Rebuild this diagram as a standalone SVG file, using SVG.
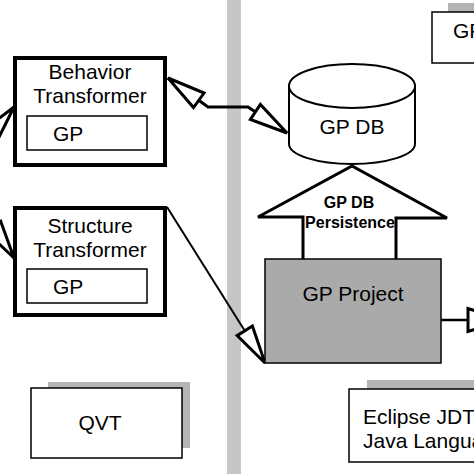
<svg xmlns="http://www.w3.org/2000/svg" width="474" height="474" viewBox="0 0 474 474">
<style>
text{font-family:"Liberation Sans",Arial,sans-serif;fill:#000}
.lbl{font-size:21px}
.bold{font-size:16px;font-weight:bold}
.thick{fill:#fff;stroke:#000;stroke-width:4}
.thin{fill:#fff;stroke:#000;stroke-width:1.5}
.shadow{fill:#b4b4b4}
.conn{fill:none;stroke:#000;stroke-width:3;stroke-linejoin:miter}
</style>
<defs>
<marker id="hollow" viewBox="-42 -12 46 24" refX="0" refY="0" markerWidth="46" markerHeight="24" markerUnits="userSpaceOnUse" orient="auto-start-reverse" style="overflow:visible">
<path d="M0,0 L-38,-9 L-38,9 Z" fill="#fff" stroke="#000" stroke-width="3"/>
</marker>
<marker id="hollowWide" viewBox="-42 -14 46 28" refX="0" refY="0" markerWidth="46" markerHeight="28" markerUnits="userSpaceOnUse" orient="auto" style="overflow:visible">
<path d="M0,0 L-38,-11.5 L-38,11.5 Z" fill="#fff" stroke="#000" stroke-width="3"/>
</marker>
</defs>
<rect width="474" height="474" fill="#fff"/>
<rect id="divider" x="227" y="0" width="14" height="474" fill="#c6c6c6"/>

<g id="connectors">
<path class="conn" d="M168,78 L208,107 L248,107 L287,133" marker-start="url(#hollow)" marker-end="url(#hollow)"/>
<path class="conn" d="M-30,160 L14,107" marker-end="url(#hollow)"/>
<path class="conn" d="M-30,191 L14,258" marker-end="url(#hollow)"/>
<path fill="none" stroke="#000" stroke-width="2" d="M167,207 L265,363" marker-end="url(#hollow)"/>
<path fill="none" stroke="#000" stroke-width="2.5" d="M441,320 L506,320" marker-end="url(#hollowWide)"/>
</g>

<g id="behavior-transformer">
<rect class="thick" x="15" y="58" width="150" height="107"/>
<text class="lbl" x="90" y="79" text-anchor="middle">Behavior</text>
<text class="lbl" x="90" y="103" text-anchor="middle">Transformer</text>
<rect class="thin" x="27" y="116" width="120" height="34"/>
<text class="lbl" x="53" y="141">GP</text>
</g>

<g id="structure-transformer">
<rect class="thick" x="15" y="208" width="150" height="107"/>
<text class="lbl" x="90" y="233" text-anchor="middle">Structure</text>
<text class="lbl" x="90" y="257" text-anchor="middle">Transformer</text>
<rect class="thin" x="27" y="269" width="120" height="34"/>
<text class="lbl" x="53" y="294">GP</text>
</g>

<g id="qvt">
<rect class="shadow" x="48" y="382" width="142" height="66"/>
<rect class="thin" x="31" y="388" width="151" height="70"/>
<text class="lbl" x="100" y="430" text-anchor="middle">QVT</text>
</g>

<g id="gp-db">
<path d="M289,86 L289,144 A63,20 0 0 0 415,144 L415,86 Z" fill="#fff" stroke="#000" stroke-width="2"/>
<ellipse cx="352" cy="86" rx="63" ry="22" fill="#fff" stroke="#000" stroke-width="2"/>
<text class="lbl" x="352" y="134" text-anchor="middle">GP DB</text>
</g>

<g id="gp-db-persistence">
<path d="M303,259 L303,217 L258,217 L352,166 L447,218 L396,218 L396,259" fill="#fff" stroke="#000" stroke-width="3" stroke-linejoin="miter"/>
<text class="bold" x="349" y="208" text-anchor="middle">GP DB</text>
<text class="bold" x="350" y="228" text-anchor="middle">Persistence</text>
</g>

<g id="gp-project">
<rect x="265" y="259" width="176" height="104" fill="#aaaaaa" stroke="#000" stroke-width="1.5"/>
<text class="lbl" x="353" y="301" text-anchor="middle">GP Project</text>
</g>

<g id="gp-top-right">
<rect class="shadow" x="448" y="3" width="40" height="20"/>
<rect class="thin" x="432" y="12" width="60" height="51"/>
<text class="lbl" x="453" y="38">GP</text>
</g>

<g id="eclipse-jdt">
<rect class="shadow" x="367" y="380" width="120" height="40"/>
<rect class="thin" x="349" y="389" width="140" height="73"/>
<text class="lbl" x="363" y="424">Eclipse JDT</text>
<text class="lbl" x="363" y="448">Java Language</text>
</g>
</svg>
